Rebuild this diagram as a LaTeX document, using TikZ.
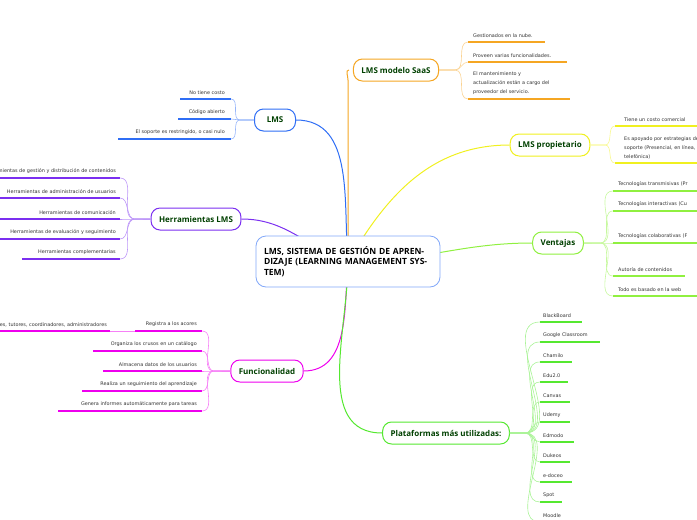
\documentclass[tikz,border=0pt]{standalone}
\usepackage{fontspec}
\setmainfont{Open Sans}
\newfontfamily\leaffont{DejaVu Sans}
\begin{document}
\begin{tikzpicture}[x=1pt,y=-1pt,
  mainn/.style={draw=#1,line width=1pt,rounded corners=9pt,fill=white,text=green!25!black,font=\fontsize{8}{9}\bfseries\selectfont,minimum height=22pt,inner xsep=8pt},
  leaf/.style={font=\leaffont\fontsize{4.9}{9}\selectfont,text=black!80,inner sep=0pt,align=left},
  ul/.style={draw=#1,line width=1.3pt},
  lc/.style={draw=#1!50,line width=0.6pt},
  mc/.style={draw=#1,line width=1pt}]
\useasboundingbox (0,0) rectangle (697,520);
\definecolor{cb}{HTML}{2F6EF5}\definecolor{cp}{HTML}{7B2FF0}\definecolor{cm}{HTML}{EE00EE}
\definecolor{cy}{HTML}{F0F020}\definecolor{cl}{HTML}{90F040}\definecolor{cg}{HTML}{55E830}\definecolor{co}{HTML}{F5A623}
\coordinate (hub) at (348,262);
\draw[mc=co] (hub) -- (348,80) to[out=90,in=180] (349,70);
\node[mainn=co] (saas) at (396,70) {LMS modelo SaaS};
\node[mainn=cb,minimum width=41pt,inner xsep=4pt] (lms) at (275,120) {LMS};
\node[mainn=cp] (herr) at (196,219) {Herramientas LMS};
\node[mainn=cm] (fun) at (267,371) {Funcionalidad};
\node[mainn=cy] (prop) at (550,145) {LMS propietario};
\node[mainn=cl] (ven) at (558,243) {Ventajas};
\node[mainn=cg] (pla) at (446,433) {Plataformas más utilizadas:};
\draw[mc=cb] (hub) to[out=95,in=0] (lms.east);
\draw[mc=cp] (hub) to[out=160,in=0] (herr.east);
\draw[mc=cm] (hub) to[out=265,in=0] (fun.east);
\draw[mc=cy] (hub) to[out=60,in=180] (prop.west);
\draw[mc=cl] (hub) to[out=0,in=180] (ven.west);
\draw[mc=cg] (hub) to[out=270,in=180] (pla.west);
\node[draw=cb!60,line width=0.8pt,rounded corners=10pt,fill=white,minimum width=184pt,minimum height=51pt,text width=168pt,align=left,font=\fontsize{8.5}{10.5}\bfseries\selectfont,text=black] (c) at (348,261.5) {\hyphenpenalty=10000 LMS, SISTEMA DE GESTIÓN DE APRENDIZAJE (LEARNING MANAGEMENT SYSTEM)};
\foreach \t/\y/\l in {No tiene costo/99/180, Código abierto/119/178, {El soporte es restringido, o casi nulo}/139/118}{
  \coordinate (e) at (231,\y);
  \draw[ul=cb] (\l,\y) -- (e);
  \node[leaf,anchor=south east] at (225,\y-4) {\t};
  \draw[lc=cb] (lms.west) -- (240,120) to[out=180,in=0] (e);}
\foreach \t/\y/\l in {Herramientas de gestión y distribución de contenidos/178/0, Herramientas de administración de usuarios/198/0, Herramientas de comunicación/219/0, Herramientas de evaluación y seguimiento/239/0, Herramientas complementarias/259/22}{
  \coordinate (e) at (120,\y);
  \draw[ul=cp] (\l,\y) -- (e);
  \node[leaf,anchor=south east] at (116,\y-4) {\t};
  \draw[lc=cp] (herr.west) -- (135,219) to[out=180,in=0] (e);}
\foreach \t/\y/\l in {Registra a los acores/331/135, Organiza los crusos en un catálogo/351/93, Almacena datos de los usuarios/371/103, Realiza un seguimiento del aprendizaje/391/82, Genera informes automáticamente para  tareas/411/58}{
  \coordinate (e) at (202,\y);
  \draw[ul=cm] (\l,\y) -- (e);
  \node[leaf,anchor=south east] at (197,\y-4) {\t};
  \draw[lc=cm] (fun.west) -- (214,371) to[out=180,in=0] (e);}
\draw[ul=cm] (0,331) -- (110,331);
\draw[lc=cm] (110,331) -- (135,331);
\node[leaf,anchor=south east] at (107,327) {Docentes, estudiantes, tutores, coordinadores, administradores};
\foreach \t/\y/\r in {Gestionados en la nube./42/545, Proveen varias funcionalidades./62/567, {El mantenimiento y\\actualización están a cargo del\\proveedor del servicio.}/99/570}{
  \coordinate (e) at (468,\y);
  \draw[ul=co] (e) -- (\r,\y);
  \node[leaf,anchor=south west] at (473,\y-4) {\t};
  \draw[lc=co] (saas.east) -- (455,70) to[out=0,in=180] (e);}
\foreach \t/\y in {Tiene un costo comercial/126, {Es apoyado por estrategias de\\soporte (Presencial, en línea,\\telefónica)}/163}{
  \coordinate (e) at (615,\y);
  \draw[ul=cy] (e) -- (697,\y);
  \node[leaf,anchor=south west] at (624,\y-4) {\t};
  \draw[lc=cy] (prop.east) -- (605,145) to[out=0,in=180] (e);}
\foreach \t/\y/\r in {Tecnologías transmisivas (Pr/191/697, Tecnologías interactivas (Cu/211/697, Tecnologías colaborativas (F/243/697, Autoría de contenidos/276/685, Todo es basado en la web/296/697}{
  \coordinate (e) at (613,\y);
  \draw[ul=cl] (e) -- (\r,\y);
  \node[leaf,anchor=south west] at (618,\y-4) {\t};
  \draw[lc=cl] (ven.east) -- (600,243) to[out=0,in=180] (e);}
\foreach \t/\y/\r in {BlackBoard/322/582, Google Classroom/342/600, Chamilo/362/572, Edu2.0/382/568, Canvas/402/570, Udemy/422/570, Edmodo/442/574, Dukeos/462/570, e-doceo/482/572, Spot/502/562, Moodle/522/570}{
  \coordinate (e) at (540,\y);
  \draw[ul=cg] (e) -- (\r,\y);
  \node[leaf,anchor=south west] at (543,\y-4) {\t};
  \draw[lc=cg] (pla.east) -- (525,433) to[out=0,in=180] (e);}
\end{tikzpicture}
\end{document}
